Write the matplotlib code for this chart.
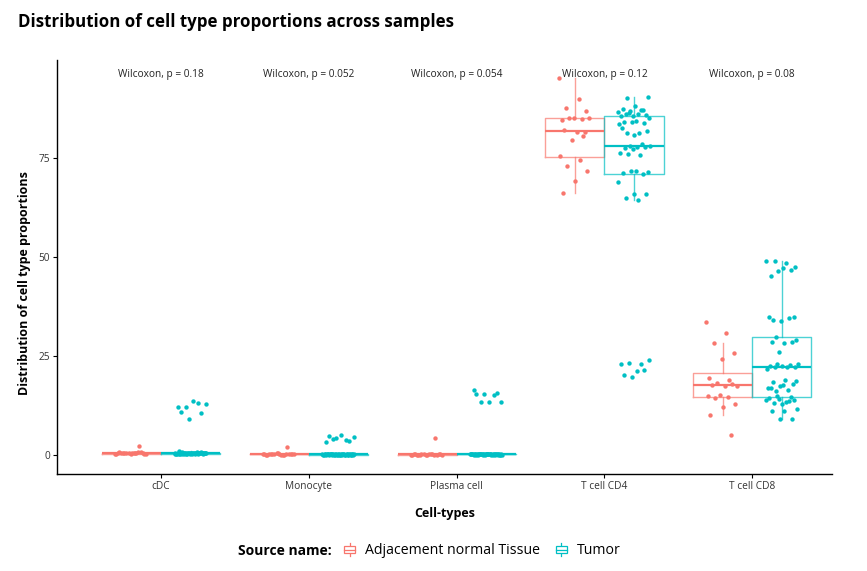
import numpy as np
import matplotlib
matplotlib.use("Agg")
import matplotlib.pyplot as plt
from matplotlib.patches import Rectangle
from matplotlib.lines import Line2D
from matplotlib.legend_handler import HandlerBase

plt.rcParams['font.family'] = ['Open Sans', 'DejaVu Sans']

# ---- data ----
cell_types = ["cDC", "Monocyte", "Plasma cell", "T cell CD4", "T cell CD8"]
groups = ["Adjacement normal Tissue", "Tumor"]
colors = ["#F8766D", "#00BFC4"]
p_labels = ["Wilcoxon, p = 0.18", "Wilcoxon, p = 0.052", "Wilcoxon, p = 0.054",
            "Wilcoxon, p = 0.12", "Wilcoxon, p = 0.08"]

cdc_normal = [0.3, 0.5, 0.4, 0.6, 0.2, 0.5, 0.7, 0.4, 0.3, 0.6,
              0.5, 0.8, 0.4, 0.3, 0.6, 0.5, 0.2, 0.4, 0.7, 2.3]
cdc_tumor = [0.3, 0.4, 0.5, 0.2, 0.6, 0.4, 0.3, 0.5, 0.7, 0.4,
             0.2, 0.5, 0.3, 0.6, 0.4, 0.5, 0.3, 0.8, 0.4, 0.2,
             0.5, 0.6, 0.3, 0.4, 1.0, 0.5, 0.3, 0.4, 0.6, 0.2,
             0.5, 0.4, 0.3, 0.7, 0.4, 0.5, 0.3, 0.6, 0.4, 0.2,
             0.5, 0.3, 0.4, 0.6, 0.5,
             12.2, 13.2, 12.0, 13.0, 13.6, 10.9, 10.7, 9.1]

mono_normal = [0.2, 0.1, 0.3, 0.2, 0.4, 0.1, 0.2, 0.3, 0.2, 0.1,
               0.3, 0.2, 0.4, 0.2, 0.1, 0.3, 0.2, 0.2, 0.1, 2.0]
mono_tumor = [0.1, 0.2, 0.1, 0.3, 0.2, 0.1, 0.2, 0.1, 0.2, 0.3,
              0.1, 0.2, 0.1, 0.2, 0.1, 0.3, 0.2, 0.1, 0.2, 0.1,
              0.2, 0.3, 0.1, 0.2, 0.1, 0.2, 0.1, 0.2, 0.3, 0.1,
              0.2, 0.1, 0.2, 0.1, 0.3, 0.2, 0.1, 0.2, 0.1, 0.2,
              0.1, 0.2, 0.3, 0.1, 0.2,
              3.3, 3.8, 4.1, 4.6, 5.0, 4.9, 3.6, 4.4]

plasma_normal = [0.1, 0.2, 0.1, 0.2, 0.1, 0.3, 0.1, 0.2, 0.1, 0.2,
                 0.1, 0.1, 0.2, 0.1, 0.2, 0.1, 0.3, 0.1, 0.2, 4.2]
plasma_tumor = [0.2, 0.1, 0.2, 0.3, 0.2, 0.1, 0.2, 0.2, 0.3, 0.1,
                0.2, 0.2, 0.1, 0.3, 0.2, 0.2, 0.1, 0.2, 0.3, 0.2,
                0.1, 0.2, 0.2, 0.3, 0.1, 0.2, 0.2, 0.1, 0.3, 0.2,
                0.2, 0.1, 0.2, 0.3, 0.2, 0.1, 0.2, 0.2, 0.1, 0.3,
                0.2, 0.2, 0.1, 0.2, 0.3,
                16.4, 15.1, 13.3, 13.5, 13.5, 15.4, 15.6, 15.4]

cd4_normal = [95.2, 89.9, 87.6, 86.9, 85.1, 84.6, 84.8, 85.1, 85.0, 81.6,
              82.1, 81.6, 79.5, 75.5, 74.5, 73.0, 71.7, 69.2, 66.2, 80.5]
cd4_tumor = [90.2, 90.5, 88.2,
             87.5, 87.0, 86.8, 86.5, 86.2, 86.0, 85.8, 85.6, 85.5, 87.2, 86.4, 85.2,
             84.3, 84.0, 83.8, 84.1, 83.6,
             81.3, 81.3, 81.8, 80.8, 82.5,
             78.5, 78.1, 78.0, 77.8, 77.6, 77.9, 77.4,
             76.2, 75.8, 76.0,
             71.5, 71.8, 71.2, 70.9, 71.6,
             69.0, 64.4, 64.8, 65.8, 66.0,
             23.0, 23.0, 23.2, 24.0, 21.2, 20.2, 21.5, 19.7]

cd8_normal = [33.7, 30.7, 28.4, 25.7, 24.2, 19.5, 18.9, 18.3, 17.5, 17.3,
              17.7, 17.9, 15.2, 14.9, 14.7, 14.5, 12.9, 12.2, 10.1, 5.0]
cd8_tumor = [49.1, 47.5, 47.1, 45.2, 46.7, 46.5, 49.1, 48.4,
             34.1, 34.9, 33.9, 34.9, 34.7,
             29.8, 29.0, 28.4, 28.6, 28.6, 26.1,
             21.8, 22.1, 22.2, 22.3, 22.4, 22.6, 22.7, 22.9, 23.0,
             19.0, 18.5, 18.0, 17.5, 17.0, 16.5, 16.2, 18.8, 17.8, 16.8,
             14.6, 14.2, 13.8, 13.5, 13.2, 14.0, 13.0, 14.4, 13.6, 14.8,
             11.6, 11.2, 11.0, 9.1, 9.0]

normal = [cdc_normal, mono_normal, plasma_normal, cd4_normal, cd8_normal]
tumor = [cdc_tumor, mono_tumor, plasma_tumor, cd4_tumor, cd8_tumor]

# ---- figure ----
fig = plt.figure(figsize=(8.67, 5.71), dpi=100)
ax = fig.add_axes([57 / 867, 1 - 474 / 571, (832 - 57) / 867, (474 - 60) / 571])

x = np.arange(1, len(cell_types) + 1)
dodge = 0.2
box_w = 0.4
jit = 0.11

for g, (series, col) in enumerate(zip([normal, tumor], colors)):
    pos = x + (g * 2 - 1) * dodge
    ax.boxplot(series, positions=pos, widths=box_w, showfliers=False,
               whis=1.5, manage_ticks=False, showcaps=False,
               boxprops=dict(color=col, alpha=0.7, linewidth=1.0),
               whiskerprops=dict(color=col, alpha=0.7, linewidth=1.0),
               medianprops=dict(color=col, linewidth=1.6))
    for p, vals in zip(pos, series):
        vals = np.asarray(vals)
        n = len(vals)
        off = ((np.arange(n) * 0.618034 + 0.3 * g) % 1 - 0.5) * 2 * jit
        ax.scatter(p + off, vals, s=10, color=col, linewidths=0, zorder=3)

for xi, lab in zip(x, p_labels):
    ax.text(xi, 96, lab, ha="center", va="center", fontsize=7.3, color="#222222")

ax.set_xlim(0.296, 5.54)
ax.set_ylim(-4.8, 99.75)
ax.set_xticks(x)
ax.set_xticklabels(cell_types)
ax.set_yticks([0, 25, 50, 75])
ax.tick_params(axis="both", labelsize=7.3, labelcolor="#333333", color="black",
               length=3, width=0.8, pad=2)
for s in ["top", "right"]:
    ax.spines[s].set_visible(False)
for s in ["left", "bottom"]:
    ax.spines[s].set_linewidth(1.0)

ax.set_xlabel("Cell-types", fontsize=9, fontweight="bold", labelpad=11)
ax.set_ylabel("Distribution of cell type proportions", fontsize=9, fontweight="bold")
ax.yaxis.set_label_coords(-0.034, 0.46)

fig.text(18 / 867, 1 - 22 / 571, "Distribution of cell type proportions across samples",
         fontsize=12.2, fontweight="bold", ha="left", va="center")


class BoxKey(HandlerBase):
    def create_artists(self, legend, orig_handle, xdescent, ydescent,
                       width, height, fontsize, trans):
        col = orig_handle.get_edgecolor()
        cx = width / 2 - xdescent
        cy = height / 2 - ydescent
        bw, bh = 8, 5
        rect = Rectangle((cx - bw / 2, cy - bh / 2), bw, bh, facecolor="white",
                         edgecolor=col, linewidth=0.9, transform=trans)
        med = Line2D([cx - bw / 2, cx + bw / 2], [cy, cy], color=col, lw=0.9, transform=trans)
        whisk = Line2D([cx, cx], [cy - bh / 2 - 2, cy + bh / 2 + 2], color=col, lw=0.9,
                       transform=trans)
        return [whisk, rect, med]


handles = [Rectangle((0, 0), 1, 1, edgecolor=c, facecolor="white") for c in colors]
fig.text(238 / 867, 1 - 551 / 571, "Source name:", fontsize=10, fontweight="bold",
         ha="left", va="center")
fig.legend(handles, groups, handler_map={Rectangle: BoxKey()}, ncol=2,
           loc="center left", bbox_to_anchor=(341 / 867, 1 - 551 / 571),
           frameon=False, fontsize=10.2, handlelength=1.2, handletextpad=0.5,
           columnspacing=0.9, borderaxespad=0, borderpad=0)

fig.savefig("out.png", dpi=100, facecolor="white")
